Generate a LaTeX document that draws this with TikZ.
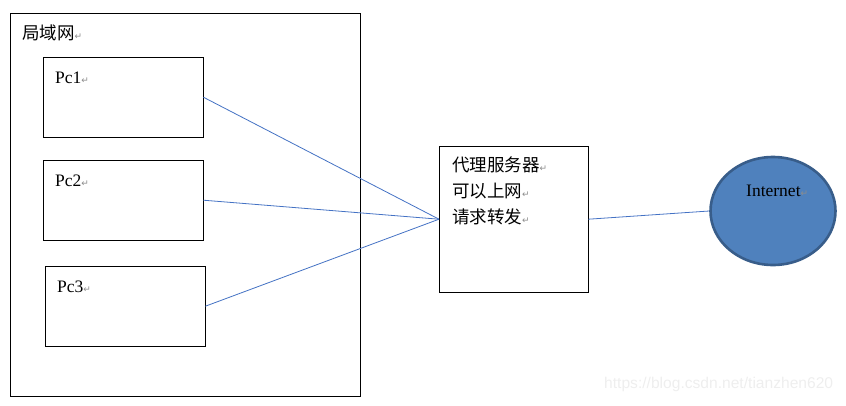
\documentclass[tikz,border=0pt]{standalone}
\usepackage{fontspec}
\usepackage{tikz}
\usetikzlibrary{shapes.geometric}
\setmainfont{Liberation Serif}
\newfontfamily\cjk{Noto Sans CJK SC}
\newfontfamily\symfont{DejaVu Sans}
\newfontfamily\wmfont{Liberation Sans}
\definecolor{black}{RGB}{0,0,0}
\definecolor{white}{RGB}{255,255,255}
\definecolor{link_blue}{RGB}{68,114,196}
\definecolor{cloud_fill}{RGB}{79,129,189}
\definecolor{cloud_edge}{RGB}{56,93,138}
\definecolor{mark_gray}{RGB}{140,140,140}
\definecolor{wm_gray}{RGB}{238,238,238}
\newcommand{\ret}{{\symfont\fontsize{9}{9}\selectfont\textcolor{mark_gray}{↵}}}

\begin{document}
\begin{tikzpicture}[x=1pt,y=-1pt,
	box/.style={draw=black,fill=white,anchor=north west,inner sep=0pt},
	txt/.style={anchor=base west,inner sep=0pt,font=\fontsize{17.5}{20}\selectfont}]
	\useasboundingbox (0,0) rectangle (846,405);
	% lan frame and the three pcs
	\node[box,minimum width=350pt,minimum height=383pt] (lan) at (10,13) {};
	\node[txt] (lantxt) at (22,39) {\cjk 局域网\ret};
	\node[box,minimum width=160pt,minimum height=80pt] (pc1) at (43,57) {};
	\node[box,minimum width=160pt,minimum height=80pt] (pc2) at (43,160) {};
	\node[box,minimum width=160pt,minimum height=80pt] (pc3) at (45,266) {};
	\node[txt] (pc1txt) at (55,83) {Pc1\ret};
	\node[txt] (pc2txt) at (55,186) {Pc2\ret};
	\node[txt] (pc3txt) at (57,292) {Pc3\ret};
	
	% proxy
	\node[box,minimum width=149pt,minimum height=146pt] (proxy) at (439,146) {};
	\node[txt] (px1) at (452,171) {\cjk 代理服务器\ret};
	\node[txt] (px2) at (452,197) {\cjk 可以上网\ret};
	\node[txt] (px3) at (452,223) {\cjk 请求转发\ret};
	
	% internet
	\node[ellipse,draw=cloud_edge,line width=2.6pt,fill=cloud_fill,minimum width=125pt,minimum height=108pt,inner sep=0pt] (net) at (773,211) {};
	\node[txt] (nettxt) at (746,196) {Internet\ret};
	
	\foreach \x in {pc1,pc2,pc3}
		\draw[link_blue,line width=0.8pt] (\x.east) -- (proxy.west);
	\draw[link_blue,line width=0.8pt] (proxy.east) -- (net.west);
	
	\node[anchor=base west,inner sep=0pt,text=wm_gray,font=\wmfont\fontsize{15.6}{15.6}\selectfont] (wm) at (604,388) {https://blog.csdn.net/tianzhen620};
\end{tikzpicture}
\end{document}
